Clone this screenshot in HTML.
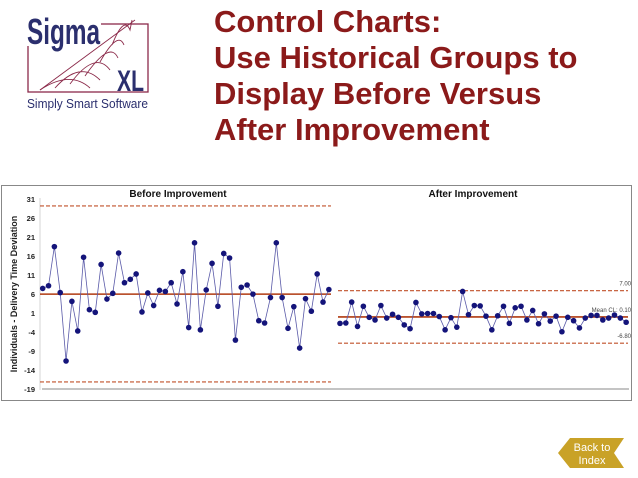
<!DOCTYPE html>
<html><head><meta charset="utf-8"><style>
body{margin:0;width:638px;height:478px;background:#fff;position:relative;overflow:hidden;font-family:"Liberation Sans",sans-serif}
.t{position:absolute;left:214px;font-size:31px;font-weight:bold;color:#8b1a1a;white-space:nowrap;line-height:1}
</style></head><body>
<div style="position:absolute;left:0;top:0;width:200px;height:130px">
<svg width="200" height="130">
<rect x="28" y="24" width="120" height="68" fill="none" stroke="#8b2a4a" stroke-width="1.3"/>
<rect x="26" y="12" width="75" height="34" fill="#fff"/>
<g stroke="#8b2a4a" fill="none" stroke-width="0.9">
<path d="M40 90 Q70 70 90 88 M55 88 Q80 60 100 80 M70 84 Q95 50 110 70 M85 76 Q110 40 118 58 M100 62 Q118 30 124 45 M112 45 Q124 15 130 30 L132 20"/>
<path d="M40 90 L135 20"/>
</g>
<text x="27" y="44" textLength="73" lengthAdjust="spacingAndGlyphs" font-family="Liberation Sans" font-weight="bold" font-size="36" fill="#2b2f6e">Sigma</text>
<text x="117" y="91" textLength="27" lengthAdjust="spacingAndGlyphs" font-family="Liberation Sans" font-weight="bold" font-size="30" fill="#2b2f6e">XL</text>
<text x="27" y="108" textLength="121" lengthAdjust="spacingAndGlyphs" font-family="Liberation Sans" font-size="12.5" fill="#2b2f6e">Simply Smart Software</text>
</svg></div>
<div class="t" style="top:6px">Control Charts:</div>
<div class="t" style="top:42px">Use Historical Groups to</div>
<div class="t" style="top:78px">Display Before Versus</div>
<div class="t" style="top:114px">After Improvement</div>

<svg id="chart" width="638" height="478" style="position:absolute;left:0;top:0"></svg>

<svg width="66" height="30" style="position:absolute;left:558px;top:438px;cursor:pointer">
<polygon points="0,15 12,0 66,0 56,15 66,30 12,30" fill="#c9a227"/>
<text x="34" y="13" text-anchor="middle" font-family="Liberation Sans" font-size="11" fill="#fff">Back to</text>
<text x="34" y="26" text-anchor="middle" font-family="Liberation Sans" font-size="11" fill="#fff">Index</text>
</svg>

<script>
const yTicks=[31,26,21,16,11,6,1,-4,-9,-14,-19];
const beforeValues=[7.6,8.3,18.6,6.5,-11.5,4.2,-3.6,15.8,2.0,1.3,13.9,4.8,6.3,16.9,9.1,10.0,11.4,1.4,6.4,3.1,7.1,6.8,9.1,3.5,12.0,-2.7,19.6,-3.3,7.2,14.2,2.9,16.8,15.6,-6.0,7.9,8.5,6.1,-0.9,-1.5,5.2,19.6,5.2,-2.9,2.8,-8.1,4.9,1.6,11.4,4.0,7.3];
const afterValues=[-1.6,-1.5,4.0,-2.4,2.9,0.0,-0.7,3.1,-0.2,0.8,0.0,-2.0,-3.0,3.9,0.9,1.0,1.0,0.2,-3.3,-0.1,-2.6,6.8,0.7,3.1,3.0,0.3,-3.3,0.4,2.9,-1.6,2.5,2.9,-0.7,1.8,-1.7,0.9,-1.0,0.3,-3.8,0.0,-0.9,-2.8,-0.2,0.5,0.5,-0.7,-0.2,0.6,-0.2,-1.3];
const beforeLimits=[29.3,6.1,-17.0];
const afterLimits=[7.0,0.1,-6.8];
const afterLabels=["7.00","Mean CL: 0.10","-6.80"];
const NS="http://www.w3.org/2000/svg";
const svg=document.getElementById('chart');
function y(v){return 199.5+(31-v)*3.8;}
function xb(i){return 42.7+i*5.84;}
function xa(i){return 340+i*5.84;}
function mk(t,a){const e=document.createElementNS(NS,t);for(const k in a)e.setAttribute(k,a[k]);svg.appendChild(e);return e;}
let e=mk('rect',{x:1.5,y:185.5,width:630,height:215,fill:'none',stroke:'#888','stroke-width':1});


e=mk('line',{x1:42,y1:389,x2:629,y2:389,stroke:'#888','stroke-width':1});


e=mk('line',{x1:40,y1:198,x2:40,y2:390,stroke:'#bbb','stroke-width':0.6});


yTicks.forEach(v=>{const t=mk('text',{x:35,y:y(v)+2.5,'text-anchor':'end','font-size':7.5,'font-weight':'bold','font-family':'Liberation Sans',fill:'#222'});t.textContent=v;

});
e=mk('text',{x:0,y:0,transform:'translate(17,294) rotate(-90)','text-anchor':'middle','font-size':9,'font-weight':'bold','font-family':'Liberation Sans',fill:'#222'});
e.textContent='Individuals - Delivery Time Deviation';


[['Before Improvement',178],['After Improvement',473]].forEach(([s,x])=>{const t=mk('text',{x:x,y:197,'text-anchor':'middle','font-size':10,'font-weight':'bold','font-family':'Liberation Sans',fill:'#111'});t.textContent=s;

});
function limits(L,x0,x1){L.forEach((v,k)=>{const l=mk('line',{x1:x0,x2:x1,y1:y(v),y2:y(v),stroke:k==1?'#b03a10':'#c0502a','stroke-width':k==1?1.6:1.1,'stroke-dasharray':k==1?'':'4,2'});

});}
limits(beforeLimits,40,331);
limits(afterLimits,338,628);
afterLabels.forEach((s,k)=>{const t=mk('text',{x:631,y:y(afterLimits[k])-5,'text-anchor':'end','font-size':6,'font-family':'Liberation Sans',fill:'#444'});t.textContent=s;

});
function series(vals,xf,name){const p=mk('polyline',{points:vals.map((v,i)=>xf(i)+','+y(v)).join(' '),fill:'none',stroke:'#5a5aa8','stroke-width':0.8});


vals.forEach((v,i)=>{const c=mk('circle',{cx:xf(i),cy:y(v),r:2.8,fill:'#14147a'});

});}
series(beforeValues,xb,'before');
series(afterValues,xa,'after');
</script>
</body></html>
